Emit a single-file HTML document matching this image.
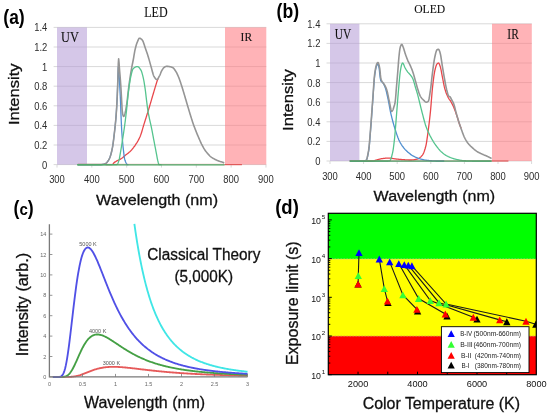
<!DOCTYPE html>
<html><head><meta charset="utf-8"><style>
html,body{margin:0;padding:0;background:#fff;}
svg{display:block;will-change:transform;}
text{font-family:"Liberation Sans",sans-serif;}
.serif{font-family:"Liberation Serif",serif;stroke:#111;stroke-width:0.1px;}
</style></head><body>
<svg width="550" height="414" viewBox="0 0 550 414">
<rect width="550" height="414" fill="#fff"/>
<!-- ===== Panel a ===== -->
<g stroke="#d9d9d9" stroke-width="1">
<line x1="57" x2="57" y1="164.6" y2="167.6"/>
<line x1="91.83" x2="91.83" y1="164.6" y2="167.6"/>
<line x1="126.66" x2="126.66" y1="164.6" y2="167.6"/>
<line x1="161.49" x2="161.49" y1="164.6" y2="167.6"/>
<line x1="196.32" x2="196.32" y1="164.6" y2="167.6"/>
<line x1="231.15" x2="231.15" y1="164.6" y2="167.6"/>
<line x1="265.98" x2="265.98" y1="164.6" y2="167.6"/>
<line x1="53.6" x2="266.3" y1="164.6" y2="164.6"/>
<line x1="53.6" x2="266.3" y1="145" y2="145"/>
<line x1="53.6" x2="266.3" y1="125.4" y2="125.4"/>
<line x1="53.6" x2="266.3" y1="105.8" y2="105.8"/>
<line x1="53.6" x2="266.3" y1="86.2" y2="86.2"/>
<line x1="53.6" x2="266.3" y1="66.6" y2="66.6"/>
<line x1="53.6" x2="266.3" y1="47" y2="47"/>
<line x1="53.6" x2="266.3" y1="27.4" y2="27.4"/>
</g>
<rect x="57" y="27.4" width="30" height="137.2" fill="rgb(179,154,213)" fill-opacity="0.553"/>
<rect x="225" y="27.4" width="41.3" height="137.2" fill="rgb(255,118,125)" fill-opacity="0.553"/>
<g fill="none" stroke-width="1.3" stroke-linejoin="round">
<path d="M105.76,164.6 L106.11,164.6 L106.46,164.6 L106.81,164.6 L107.16,164.6 L107.5,164.6 L107.85,164.6 L108.2,164.6 L108.55,164.6 L108.9,164.6 L109.25,164.6 L109.59,164.6 L109.94,164.6 L110.29,164.6 L110.64,164.6 L110.99,164.6 L111.33,164.6 L111.68,164.6 L112.03,164.6 L112.38,164.49 L112.73,164.21 L113.08,163.82 L113.42,163.39 L113.77,162.97 L114.12,162.64 L114.47,162.38 L114.82,162.14 L115.17,161.91 L115.51,161.69 L115.86,161.48 L116.21,161.27 L116.56,161.07 L116.91,160.88 L117.26,160.69 L117.6,160.52 L117.95,160.35 L118.3,160.18 L118.65,160.01 L119,159.85 L119.35,159.68 L119.69,159.5 L120.04,159.32 L120.39,159.13 L120.74,158.93 L121.09,158.72 L121.44,158.49 L121.78,158.25 L122.13,157.99 L122.48,157.73 L122.83,157.45 L123.18,157.16 L123.53,156.87 L123.87,156.58 L124.22,156.28 L124.57,155.98 L124.92,155.68 L125.27,155.38 L125.62,155.09 L125.96,154.8 L126.31,154.52 L126.66,154.24 L127.01,153.97 L127.36,153.71 L127.7,153.44 L128.05,153.17 L128.4,152.89 L128.75,152.62 L129.1,152.33 L129.45,152.04 L129.79,151.73 L130.14,151.42 L130.49,151.09 L130.84,150.74 L131.19,150.38 L131.54,150 L131.88,149.61 L132.23,149.2 L132.58,148.79 L132.93,148.35 L133.28,147.91 L133.63,147.45 L133.97,146.98 L134.32,146.5 L134.67,146.01 L135.02,145.51 L135.37,145 L135.72,144.48 L136.06,143.95 L136.41,143.41 L136.76,142.86 L137.11,142.3 L137.46,141.71 L137.81,141.11 L138.15,140.49 L138.5,139.84 L138.85,139.17 L139.2,138.47 L139.55,137.74 L139.9,136.98 L140.24,136.18 L140.59,135.31 L140.94,134.35 L141.29,133.31 L141.64,132.21 L141.99,131.05 L142.33,129.86 L142.68,128.65 L143.03,127.44 L143.38,126.24 L143.73,125.06 L144.07,123.93 L144.42,122.83 L144.77,121.73 L145.12,120.63 L145.47,119.54 L145.82,118.45 L146.16,117.36 L146.51,116.27 L146.86,115.17 L147.21,114.07 L147.56,112.95 L147.91,111.83 L148.25,110.7 L148.6,109.56 L148.95,108.4 L149.3,107.23 L149.65,106.06 L150,104.88 L150.34,103.69 L150.69,102.5 L151.04,101.31 L151.39,100.12 L151.74,98.93 L152.09,97.74 L152.43,96.55 L152.78,95.37 L153.13,94.2 L153.48,93.01 L153.83,91.83 L154.18,90.64 L154.52,89.47 L154.87,88.32 L155.22,87.18 L155.57,86.04 L155.92,84.9 L156.27,83.75 L156.61,82.63 L156.96,81.56 L157.31,80.56 L157.66,79.63 L158.01,78.85" stroke="#e8474b"/>
<path d="M77.9,164.6 L78.07,164.6 L78.25,164.6 L78.42,164.6 L78.59,164.6 L78.77,164.6 L78.94,164.6 L79.12,164.6 L79.29,164.6 L79.47,164.6 L79.64,164.6 L79.81,164.6 L79.99,164.6 L80.16,164.6 L80.34,164.6 L80.51,164.6 L80.68,164.6 L80.86,164.6 L81.03,164.6 L81.21,164.6 L81.38,164.6 L81.56,164.6 L81.73,164.6 L81.9,164.6 L82.08,164.6 L82.25,164.6 L82.43,164.6 L82.6,164.6 L82.77,164.6 L82.95,164.6 L83.12,164.6 L83.3,164.6 L83.47,164.6 L83.64,164.6 L83.82,164.6 L83.99,164.6 L84.17,164.6 L84.34,164.6 L84.52,164.6 L84.69,164.6 L84.86,164.6 L85.04,164.6 L85.21,164.6 L85.39,164.6 L85.56,164.6 L85.73,164.6 L85.91,164.6 L86.08,164.6 L86.26,164.6 L86.43,164.6 L86.61,164.6 L86.78,164.6 L86.95,164.6 L87.13,164.6 L87.3,164.6 L87.48,164.6 L87.65,164.6 L87.82,164.6 L88,164.6 L88.17,164.6 L88.35,164.6 L88.52,164.6 L88.7,164.6 L88.87,164.6 L89.04,164.6 L89.22,164.6 L89.39,164.6 L89.57,164.6 L89.74,164.6 L89.91,164.6 L90.09,164.6 L90.26,164.6 L90.44,164.6 L90.61,164.6 L90.79,164.6 L90.96,164.6 L91.13,164.6 L91.31,164.6 L91.48,164.6 L91.66,164.6 L91.83,164.6 L92,164.6 L92.18,164.6 L92.35,164.6 L92.53,164.6 L92.7,164.6 L92.87,164.6 L93.05,164.6 L93.22,164.6 L93.4,164.6 L93.57,164.6 L93.75,164.6 L93.92,164.6 L94.09,164.6 L94.27,164.6 L94.44,164.6 L94.62,164.6 L94.79,164.6 L94.96,164.6 L95.14,164.6 L95.31,164.6 L95.49,164.6 L95.66,164.6 L95.84,164.6 L96.01,164.6 L96.18,164.6 L96.36,164.6 L96.53,164.6 L96.71,164.6 L96.88,164.6 L97.05,164.6 L97.23,164.6 L97.4,164.6 L97.58,164.6 L97.75,164.6 L97.93,164.6 L98.1,164.6 L98.27,164.6 L98.45,164.6 L98.62,164.6 L98.8,164.6 L98.97,164.6 L99.14,164.6 L99.32,164.6 L99.49,164.6 L99.67,164.6 L99.84,164.6 L100.02,164.6 L100.19,164.6 L100.36,164.6 L100.54,164.6 L100.71,164.6 L100.89,164.59 L101.06,164.59 L101.23,164.58 L101.41,164.56 L101.58,164.55 L101.76,164.53 L101.93,164.51 L102.1,164.49 L102.28,164.47 L102.45,164.44 L102.63,164.42 L102.8,164.39 L102.98,164.36 L103.15,164.33 L103.32,164.31 L103.5,164.27 L103.67,164.24 L103.85,164.2 L104.02,164.15 L104.19,164.1 L104.37,164.04 L104.54,163.98 L104.72,163.92 L104.89,163.85 L105.07,163.77 L105.24,163.69 L105.41,163.61 L105.59,163.52 L105.76,163.42 L105.94,163.32 L106.11,163.19 L106.28,163.04 L106.46,162.88 L106.63,162.7 L106.81,162.51 L106.98,162.31 L107.16,162.09 L107.33,161.87 L107.5,161.64 L107.68,161.41 L107.85,161.17 L108.03,160.93 L108.2,160.67 L108.37,160.4 L108.55,160.12 L108.72,159.82 L108.9,159.5 L109.07,159.17 L109.25,158.83 L109.42,158.46 L109.59,158.08 L109.77,157.67 L109.94,157.25 L110.12,156.8 L110.29,156.31 L110.46,155.8 L110.64,155.24 L110.81,154.66 L110.99,154.04 L111.16,153.39 L111.33,152.71 L111.51,151.99 L111.68,151.25 L111.86,150.47 L112.03,149.66 L112.21,148.81 L112.38,147.94 L112.55,147 L112.73,145.96 L112.9,144.84 L113.08,143.64 L113.25,142.37 L113.42,141.04 L113.6,139.65 L113.77,138.23 L113.95,136.76 L114.12,135.28 L114.3,133.77 L114.47,132.26 L114.64,130.74 L114.82,129.2 L114.99,127.62 L115.17,125.98 L115.34,124.28 L115.51,122.49 L115.69,120.61 L115.86,118.61 L116.04,116.49 L116.21,114.21 L116.39,111.74 L116.56,109.05 L116.73,106.14 L116.91,103 L117.08,99.63 L117.26,96 L117.43,91.69 L117.6,86.59 L117.78,81.25 L117.95,76.17 L118.13,71.58 L118.3,67.17 L118.47,66.92 L118.65,68.55 L118.82,70.96 L119,73.46 L119.17,76 L119.35,78.9 L119.52,82.03 L119.69,85.22 L119.87,88.4 L120.04,91.64 L120.22,95.05 L120.39,98.71 L120.56,102.74 L120.74,107.65 L120.91,112.83 L121.09,117.28 L121.26,121.34 L121.44,125.11 L121.61,128.5 L121.78,131.42 L121.96,134.04 L122.13,136.43 L122.31,138.64 L122.48,140.71 L122.65,142.66 L122.83,144.51 L123,146.24 L123.18,147.86 L123.35,149.4 L123.53,150.88 L123.7,152.37 L123.87,153.88 L124.05,155.35 L124.22,156.69 L124.4,157.84 L124.57,158.72 L124.74,159.41 L124.92,160.03 L125.09,160.58 L125.27,161.08 L125.44,161.53 L125.62,161.93 L125.79,162.3 L125.96,162.64 L126.14,162.97 L126.31,163.31 L126.49,163.64 L126.66,163.95 L126.83,164.21 L127.01,164.42 L127.18,164.55 L127.36,164.6 L127.53,164.6 L127.7,164.6 L127.88,164.6 L128.05,164.6 L128.23,164.6 L128.4,164.6" stroke="#4f8fd0"/>
<path d="M77.9,164.6 L78.25,164.6 L78.59,164.6 L78.94,164.6 L79.29,164.6 L79.64,164.6 L79.99,164.6 L80.34,164.6 L80.68,164.6 L81.03,164.6 L81.38,164.6 L81.73,164.6 L82.08,164.6 L82.43,164.6 L82.77,164.6 L83.12,164.6 L83.47,164.6 L83.82,164.6 L84.17,164.6 L84.52,164.6 L84.86,164.6 L85.21,164.6 L85.56,164.6 L85.91,164.6 L86.26,164.6 L86.61,164.6 L86.95,164.6 L87.3,164.6 L87.65,164.6 L88,164.6 L88.35,164.6 L88.7,164.6 L89.04,164.6 L89.39,164.6 L89.74,164.6 L90.09,164.6 L90.44,164.6 L90.79,164.6 L91.13,164.6 L91.48,164.6 L91.83,164.6 L92.18,164.6 L92.53,164.6 L92.87,164.6 L93.22,164.6 L93.57,164.6 L93.92,164.6 L94.27,164.6 L94.62,164.6 L94.96,164.6 L95.31,164.6 L95.66,164.6 L96.01,164.6 L96.36,164.6 L96.71,164.6 L97.05,164.6 L97.4,164.6 L97.75,164.6 L98.1,164.6 L98.45,164.6 L98.8,164.6 L99.14,164.6 L99.49,164.6 L99.84,164.6 L100.19,164.6 L100.54,164.6 L100.89,164.59 L101.23,164.58 L101.58,164.55 L101.93,164.51 L102.28,164.47 L102.63,164.42 L102.98,164.36 L103.32,164.31 L103.67,164.24 L104.02,164.15 L104.37,164.04 L104.72,163.92 L105.07,163.77 L105.41,163.61 L105.76,163.42 L106.11,163.19 L106.46,162.88 L106.81,162.51 L107.16,162.09 L107.5,161.64 L107.85,161.17 L108.2,160.67 L108.55,160.12 L108.9,159.5 L109.25,158.83 L109.59,158.08 L109.94,157.25 L110.29,156.31 L110.64,155.24 L110.99,154.04 L111.33,152.71 L111.68,151.25 L112.03,149.66 L112.38,147.94 L112.73,145.96 L113.08,143.64 L113.42,141.04 L113.77,138.23 L114.12,135.28 L114.47,132.26 L114.82,129.2 L115.17,125.98 L115.51,122.49 L115.86,118.61 L116.21,114.21 L116.56,109.05 L116.91,103 L117.26,96 L117.6,87.15 L117.95,76.68 L118.3,63.51 L118.65,58.85 L119,62.3 L119.35,67.28 L119.69,71.55 L120.04,75.62 L120.39,79.94 L120.74,84.76 L121.09,90.59 L121.44,96.92 L121.78,103.07 L122.13,109.52 L122.48,113.03 L122.83,114.66 L123.18,115.85 L123.53,116.49 L123.87,116.49 L124.22,115.83 L124.57,114.79 L124.92,113.64 L125.27,112.34 L125.62,110.73 L125.96,108.88 L126.31,106.85 L126.66,104.68 L127.01,102.12 L127.36,99.25 L127.7,96.19 L128.05,93.06 L128.4,89.99 L128.75,87.08 L129.1,84.46 L129.45,81.97 L129.79,79.54 L130.14,77.18 L130.49,74.9 L130.84,72.7 L131.19,70.58 L131.54,68.56 L131.88,66.68 L132.23,64.93 L132.58,63.23 L132.93,61.53 L133.28,59.74 L133.63,57.78 L133.97,55.68 L134.32,53.59 L134.67,51.63 L135.02,49.94 L135.37,48.46 L135.72,47.06 L136.06,45.76 L136.41,44.57 L136.76,43.51 L137.11,42.59 L137.46,41.73 L137.81,40.86 L138.15,40.03 L138.5,39.3 L138.85,38.71 L139.2,38.32 L139.55,38.18 L139.9,38.22 L140.24,38.34 L140.59,38.53 L140.94,38.78 L141.29,39.07 L141.64,39.4 L141.99,39.76 L142.33,40.14 L142.68,40.64 L143.03,41.34 L143.38,42.19 L143.73,43.17 L144.07,44.23 L144.42,45.33 L144.77,46.42 L145.12,47.48 L145.47,48.47 L145.82,49.46 L146.16,50.45 L146.51,51.46 L146.86,52.49 L147.21,53.54 L147.56,54.6 L147.91,55.69 L148.25,56.8 L148.6,57.95 L148.95,59.15 L149.3,60.38 L149.65,61.64 L150,62.9 L150.34,64.15 L150.69,65.39 L151.04,66.6 L151.39,67.84 L151.74,69.15 L152.09,70.49 L152.43,71.82 L152.78,73.09 L153.13,74.25 L153.48,75.26 L153.83,76.08 L154.18,76.69 L154.52,77.27 L154.87,77.82 L155.22,78.32 L155.57,78.76 L155.92,79.12 L156.27,79.38 L156.61,79.52 L156.96,79.51 L157.31,79.33 L157.66,78.99 L158.01,78.52 L158.36,77.96 L158.7,77.33 L159.05,76.67 L159.4,76 L159.75,75.36 L160.1,74.62 L160.45,73.75 L160.79,72.83 L161.14,71.94 L161.49,71.17 L161.84,70.55 L162.19,69.96 L162.53,69.39 L162.88,68.85 L163.23,68.36 L163.58,67.92 L163.93,67.54 L164.28,67.25 L164.62,67.03 L164.97,66.85 L165.32,66.68 L165.67,66.53 L166.02,66.41 L166.37,66.33 L166.71,66.31 L167.06,66.31 L167.41,66.34 L167.76,66.37 L168.11,66.41 L168.46,66.46 L168.8,66.52 L169.15,66.57 L169.5,66.63 L169.85,66.69 L170.2,66.76 L170.55,66.84 L170.89,66.93 L171.24,67.02 L171.59,67.13 L171.94,67.26 L172.29,67.39 L172.64,67.55 L172.98,67.74 L173.33,68.01 L173.68,68.35 L174.03,68.75 L174.38,69.2 L174.73,69.7 L175.07,70.22 L175.42,70.77 L175.77,71.33 L176.12,71.89 L176.47,72.48 L176.82,73.14 L177.16,73.84 L177.51,74.59 L177.86,75.38 L178.21,76.2 L178.56,77.04 L178.91,77.9 L179.25,78.79 L179.6,79.73 L179.95,80.71 L180.3,81.74 L180.65,82.79 L180.99,83.87 L181.34,84.95 L181.69,86.04 L182.04,87.12 L182.39,88.23 L182.74,89.35 L183.08,90.48 L183.43,91.63 L183.78,92.79 L184.13,93.95 L184.48,95.11 L184.83,96.28 L185.17,97.47 L185.52,98.66 L185.87,99.85 L186.22,101.05 L186.57,102.25 L186.92,103.44 L187.26,104.62 L187.61,105.8 L187.96,106.97 L188.31,108.14 L188.66,109.31 L189.01,110.47 L189.35,111.63 L189.7,112.78 L190.05,113.92 L190.4,115.04 L190.75,116.16 L191.1,117.26 L191.44,118.37 L191.79,119.47 L192.14,120.55 L192.49,121.63 L192.84,122.68 L193.19,123.71 L193.53,124.71 L193.88,125.69 L194.23,126.64 L194.58,127.58 L194.93,128.49 L195.28,129.39 L195.62,130.28 L195.97,131.16 L196.32,132.03 L196.67,132.89 L197.02,133.75 L197.36,134.59 L197.71,135.42 L198.06,136.24 L198.41,137.06 L198.76,137.86 L199.11,138.67 L199.45,139.47 L199.8,140.26 L200.15,141.05 L200.5,141.82 L200.85,142.57 L201.2,143.3 L201.54,144.01 L201.89,144.7 L202.24,145.39 L202.59,146.06 L202.94,146.72 L203.29,147.36 L203.63,147.98 L203.98,148.57 L204.33,149.14 L204.68,149.67 L205.03,150.19 L205.38,150.69 L205.72,151.16 L206.07,151.63 L206.42,152.08 L206.77,152.51 L207.12,152.93 L207.47,153.34 L207.81,153.74 L208.16,154.14 L208.51,154.53 L208.86,154.91 L209.21,155.28 L209.56,155.64 L209.9,155.97 L210.25,156.29 L210.6,156.59 L210.95,156.87 L211.3,157.13 L211.65,157.38 L211.99,157.61 L212.34,157.84 L212.69,158.06 L213.04,158.27 L213.39,158.48 L213.73,158.67 L214.08,158.86 L214.43,159.05 L214.78,159.24 L215.13,159.42 L215.48,159.59 L215.82,159.76 L216.17,159.93 L216.52,160.1 L216.87,160.26 L217.22,160.41 L217.57,160.56 L217.91,160.71 L218.26,160.85 L218.61,160.99 L218.96,161.12 L219.31,161.24 L219.66,161.36 L220,161.47 L220.35,161.57 L220.7,161.66 L221.05,161.76 L221.4,161.85 L221.75,161.95 L222.09,162.06 L222.44,162.17 L222.79,162.29 L223.14,162.42 L223.49,162.57 L223.84,162.75 L224.18,162.93" stroke="#959595" stroke-width="1.6"/>
<path d="M77.2,164.6 L77.55,164.6 L77.9,164.6 L78.25,164.6 L78.59,164.6 L78.94,164.6 L79.29,164.6 L79.64,164.6 L79.99,164.6 L80.34,164.6 L80.68,164.6 L81.03,164.6 L81.38,164.6 L81.73,164.6 L82.08,164.6 L82.43,164.6 L82.77,164.6 L83.12,164.6 L83.47,164.6 L83.82,164.6 L84.17,164.6 L84.52,164.6 L84.86,164.6 L85.21,164.6 L85.56,164.6 L85.91,164.6 L86.26,164.6 L86.61,164.6 L86.95,164.6 L87.3,164.6 L87.65,164.6 L88,164.6 L88.35,164.6 L88.7,164.6 L89.04,164.6 L89.39,164.6 L89.74,164.6 L90.09,164.6 L90.44,164.6 L90.79,164.6 L91.13,164.6 L91.48,164.6 L91.83,164.6 L92.18,164.6 L92.53,164.6 L92.87,164.6 L93.22,164.6 L93.57,164.6 L93.92,164.6 L94.27,164.6 L94.62,164.6 L94.96,164.6 L95.31,164.6 L95.66,164.6 L96.01,164.6 L96.36,164.6 L96.71,164.6 L97.05,164.6 L97.4,164.6 L97.75,164.6 L98.1,164.6 L98.45,164.6 L98.8,164.6 L99.14,164.6 L99.49,164.6 L99.84,164.6 L100.19,164.6 L100.54,164.6 L100.89,164.6 L101.23,164.6 L101.58,164.6 L101.93,164.6 L102.28,164.6 L102.63,164.6 L102.98,164.6 L103.32,164.6 L103.67,164.6 L104.02,164.6 L104.37,164.6 L104.72,164.6 L105.07,164.6 L105.41,164.6 L105.76,164.6 L106.11,164.6 L106.46,164.6 L106.81,164.6 L107.16,164.6 L107.5,164.6 L107.85,164.6 L108.2,164.6 L108.55,164.6 L108.9,164.6 L109.25,164.6 L109.59,164.6 L109.94,164.6 L110.29,164.6 L110.64,164.6 L110.99,164.6 L111.33,164.6 L111.68,164.6 L112.03,164.6 L112.38,164.6 L112.73,164.6 L113.08,164.6 L113.42,164.6 L113.77,164.6 L114.12,164.6 L114.47,164.6 L114.82,164.6 L115.17,164.6 L115.51,164.6 L115.86,164.6 L116.21,164.6 L116.56,164.6 L116.91,164.48 L117.26,164.19 L117.6,163.82 L117.95,163.25 L118.3,162.41 L118.65,161.37 L119,160.19 L119.35,158.73 L119.69,156.89 L120.04,154.86 L120.39,152.84 L120.74,150.84 L121.09,148.78 L121.44,146.66 L121.78,144.5 L122.13,142.31 L122.48,140.1 L122.83,137.88 L123.18,135.64 L123.53,133.37 L123.87,131.03 L124.22,128.61 L124.57,126.09 L124.92,123.49 L125.27,120.81 L125.62,118.04 L125.96,115.18 L126.31,112.22 L126.66,109.11 L127.01,105.65 L127.36,102.03 L127.7,98.48 L128.05,95.21 L128.4,92.36 L128.75,89.61 L129.1,86.95 L129.45,84.42 L129.79,82.07 L130.14,79.93 L130.49,78.04 L130.84,76.43 L131.19,74.9 L131.54,73.42 L131.88,72.05 L132.23,70.83 L132.58,69.8 L132.93,69.03 L133.28,68.56 L133.63,68.27 L133.97,67.99 L134.32,67.74 L134.67,67.51 L135.02,67.31 L135.37,67.12 L135.72,66.97 L136.06,66.84 L136.41,66.74 L136.76,66.66 L137.11,66.62 L137.46,66.6 L137.81,66.65 L138.15,66.79 L138.5,67.02 L138.85,67.31 L139.2,67.68 L139.55,68.1 L139.9,68.56 L140.24,69.06 L140.59,69.59 L140.94,70.15 L141.29,70.86 L141.64,71.77 L141.99,72.86 L142.33,74.09 L142.68,75.44 L143.03,76.87 L143.38,78.36 L143.73,80.01 L144.07,81.92 L144.42,84.03 L144.77,86.29 L145.12,88.65 L145.47,91.24 L145.82,94.12 L146.16,97.13 L146.51,100.11 L146.86,102.92 L147.21,105.68 L147.56,108.34 L147.91,110.7 L148.25,112.72 L148.6,114.54 L148.95,116.24 L149.3,117.88 L149.65,119.52 L150,121.13 L150.34,122.67 L150.69,124.19 L151.04,125.74 L151.39,127.36 L151.74,129.08 L152.09,130.85 L152.43,132.68 L152.78,134.54 L153.13,136.4 L153.48,138.26 L153.83,140.1 L154.18,141.92 L154.52,143.75 L154.87,145.58 L155.22,147.41 L155.57,149.23 L155.92,151.04 L156.27,152.84 L156.61,154.71 L156.96,156.64 L157.31,158.53 L157.66,160.24 L158.01,161.66 L158.36,162.97 L158.7,164.11 L159.05,164.6 L159.4,164.6 L159.75,164.6 L160.1,164.6 L160.45,164.6 L160.79,164.6 L161.14,164.6 L161.49,164.6" stroke="#55c48e"/>
<path d="M77.2,164.1 H224.53" stroke="#e06a5a" stroke-width="0.8" stroke-opacity="0.35"/>
<path d="M224.53,164.6 H241.95" stroke="#e05a5a" stroke-width="1.2"/>
<path d="M77.2,164.8 H224.53" stroke="#4fa565" stroke-width="1.3"/>
</g>
<text x="3.3" y="24.3" font-size="20" font-weight="bold" fill="#000" textLength="21.5" lengthAdjust="spacingAndGlyphs">(<tspan font-size="19.5">a</tspan>)</text>
<text class="serif" x="144.2" y="16.9" font-size="14.5" fill="#111" textLength="23.4" lengthAdjust="spacingAndGlyphs">LED</text>
<text class="serif" x="61" y="41.8" font-size="14.5" fill="#111" textLength="17.8" lengthAdjust="spacingAndGlyphs">UV</text>
<text class="serif" x="240.6" y="41.2" font-size="13.5" fill="#111" textLength="11.5" lengthAdjust="spacingAndGlyphs">IR</text>
<g font-size="10.6" fill="#2e2e2e" text-anchor="end">
<text x="47.3" y="168.5" textLength="5.25" lengthAdjust="spacingAndGlyphs">0</text>
<text x="47.3" y="148.9" textLength="13.11" lengthAdjust="spacingAndGlyphs">0.2</text>
<text x="47.3" y="129.3" textLength="13.11" lengthAdjust="spacingAndGlyphs">0.4</text>
<text x="47.3" y="109.7" textLength="13.11" lengthAdjust="spacingAndGlyphs">0.6</text>
<text x="47.3" y="90.1" textLength="13.11" lengthAdjust="spacingAndGlyphs">0.8</text>
<text x="47.3" y="70.5" textLength="5.25" lengthAdjust="spacingAndGlyphs">1</text>
<text x="47.3" y="50.9" textLength="13.11" lengthAdjust="spacingAndGlyphs">1.2</text>
<text x="47.3" y="31.3" textLength="13.11" lengthAdjust="spacingAndGlyphs">1.4</text>
</g>
<g font-size="10.6" fill="#2e2e2e" text-anchor="middle">
<text x="57" y="183.2" textLength="15.74" lengthAdjust="spacingAndGlyphs">300</text>
<text x="91.83" y="183.2" textLength="15.74" lengthAdjust="spacingAndGlyphs">400</text>
<text x="126.66" y="183.2" textLength="15.74" lengthAdjust="spacingAndGlyphs">500</text>
<text x="161.49" y="183.2" textLength="15.74" lengthAdjust="spacingAndGlyphs">600</text>
<text x="196.32" y="183.2" textLength="15.74" lengthAdjust="spacingAndGlyphs">700</text>
<text x="231.15" y="183.2" textLength="15.74" lengthAdjust="spacingAndGlyphs">800</text>
<text x="265.98" y="183.2" textLength="15.74" lengthAdjust="spacingAndGlyphs">900</text>
</g>
<text x="96.1" y="204.6" font-size="15.5" fill="#111" stroke="#111" stroke-width="0.3" textLength="122" lengthAdjust="spacingAndGlyphs">Wavelength (nm)</text>
<text transform="translate(18.5,125) rotate(-90)" x="0" y="0" font-size="15.5" fill="#111" stroke="#111" stroke-width="0.3" textLength="61.5" lengthAdjust="spacingAndGlyphs">Intensity</text>
<g stroke="#d9d9d9" stroke-width="1">
<line x1="330" x2="330" y1="161" y2="164"/>
<line x1="363.6" x2="363.6" y1="161" y2="164"/>
<line x1="397.2" x2="397.2" y1="161" y2="164"/>
<line x1="430.8" x2="430.8" y1="161" y2="164"/>
<line x1="464.4" x2="464.4" y1="161" y2="164"/>
<line x1="498" x2="498" y1="161" y2="164"/>
<line x1="531.6" x2="531.6" y1="161" y2="164"/>
<line x1="326.5" x2="531.8" y1="161" y2="161"/>
<line x1="326.5" x2="531.8" y1="141.4" y2="141.4"/>
<line x1="326.5" x2="531.8" y1="121.8" y2="121.8"/>
<line x1="326.5" x2="531.8" y1="102.2" y2="102.2"/>
<line x1="326.5" x2="531.8" y1="82.6" y2="82.6"/>
<line x1="326.5" x2="531.8" y1="63" y2="63"/>
<line x1="326.5" x2="531.8" y1="43.4" y2="43.4"/>
<line x1="326.5" x2="531.8" y1="23.8" y2="23.8"/>
</g>
<rect x="330" y="23.8" width="29.4" height="137.2" fill="rgb(179,154,213)" fill-opacity="0.553"/>
<rect x="492" y="23.8" width="39.8" height="137.2" fill="rgb(255,118,125)" fill-opacity="0.553"/>
<g fill="none" stroke-width="1.3" stroke-linejoin="round">
<path d="M349.82,161 L350.16,161 L350.5,161 L350.83,161 L351.17,161 L351.5,161 L351.84,161 L352.18,161 L352.51,161 L352.85,161 L353.18,161 L353.52,161 L353.86,161 L354.19,161 L354.53,161 L354.86,161 L355.2,161 L355.54,161 L355.87,161 L356.21,161 L356.54,161 L356.88,161 L357.22,161 L357.55,161 L357.89,161 L358.22,161 L358.56,161 L358.9,161 L359.23,161 L359.57,161 L359.9,161 L360.24,161 L360.58,161 L360.91,161 L361.25,161 L361.58,161 L361.92,161 L362.26,161 L362.59,161 L362.93,161 L363.26,161 L363.6,161 L363.94,161 L364.27,161 L364.61,161 L364.94,161 L365.28,161 L365.62,161 L365.95,161 L366.29,161 L366.62,161 L366.96,161 L367.3,161 L367.63,161 L367.97,161 L368.3,161 L368.64,161 L368.98,161 L369.31,161 L369.65,161 L369.98,161 L370.32,161 L370.66,161 L370.99,161 L371.33,161 L371.66,161 L372,161 L372.34,160.99 L372.67,160.96 L373.01,160.92 L373.34,160.86 L373.68,160.78 L374.02,160.7 L374.35,160.61 L374.69,160.51 L375.02,160.41 L375.36,160.31 L375.7,160.2 L376.03,160.1 L376.37,160 L376.7,159.91 L377.04,159.82 L377.38,159.74 L377.71,159.66 L378.05,159.57 L378.38,159.47 L378.72,159.38 L379.06,159.29 L379.39,159.2 L379.73,159.11 L380.06,159.02 L380.4,158.94 L380.74,158.86 L381.07,158.79 L381.41,158.73 L381.74,158.67 L382.08,158.63 L382.42,158.58 L382.75,158.54 L383.09,158.49 L383.42,158.45 L383.76,158.41 L384.1,158.37 L384.43,158.33 L384.77,158.29 L385.1,158.25 L385.44,158.22 L385.78,158.19 L386.11,158.16 L386.45,158.14 L386.78,158.11 L387.12,158.09 L387.46,158.08 L387.79,158.07 L388.13,158.06 L388.46,158.06 L388.8,158.06 L389.14,158.07 L389.47,158.09 L389.81,158.11 L390.14,158.14 L390.48,158.18 L390.82,158.22 L391.15,158.26 L391.49,158.3 L391.82,158.35 L392.16,158.4 L392.5,158.46 L392.83,158.51 L393.17,158.57 L393.5,158.62 L393.84,158.68 L394.18,158.73 L394.51,158.78 L394.85,158.84 L395.18,158.88 L395.52,158.93 L395.86,158.98 L396.19,159.01 L396.53,159.05 L396.86,159.08 L397.2,159.12 L397.54,159.15 L397.87,159.18 L398.21,159.22 L398.54,159.25 L398.88,159.28 L399.22,159.31 L399.55,159.34 L399.89,159.37 L400.22,159.4 L400.56,159.43 L400.9,159.45 L401.23,159.48 L401.57,159.51 L401.9,159.53 L402.24,159.55 L402.58,159.58 L402.91,159.6 L403.25,159.63 L403.58,159.65 L403.92,159.68 L404.26,159.71 L404.59,159.73 L404.93,159.76 L405.26,159.78 L405.6,159.81 L405.94,159.83 L406.27,159.85 L406.61,159.87 L406.94,159.89 L407.28,159.91 L407.62,159.93 L407.95,159.95 L408.29,159.97 L408.62,159.98 L408.96,159.99 L409.3,160 L409.63,160.01 L409.97,160.02 L410.3,160.02 L410.64,160.02 L410.98,160.02 L411.31,160.01 L411.65,159.99 L411.98,159.97 L412.32,159.95 L412.66,159.92 L412.99,159.88 L413.33,159.84 L413.66,159.79 L414,159.74 L414.34,159.69 L414.67,159.63 L415.01,159.57 L415.34,159.5 L415.68,159.43 L416.02,159.36 L416.35,159.28 L416.69,159.21 L417.02,159.12 L417.36,159.04 L417.7,158.94 L418.03,158.82 L418.37,158.67 L418.7,158.5 L419.04,158.3 L419.38,158.08 L419.71,157.83 L420.05,157.57 L420.38,157.28 L420.72,156.97 L421.06,156.64 L421.39,156.29 L421.73,155.92 L422.06,155.53 L422.4,155.12 L422.74,154.65 L423.07,154.08 L423.41,153.41 L423.74,152.64 L424.08,151.79 L424.42,150.85 L424.75,149.82 L425.09,148.72 L425.42,147.55 L425.76,146.3 L426.1,144.83 L426.43,143.04 L426.77,140.98 L427.1,138.71 L427.44,136.29 L427.78,133.8 L428.11,131.28 L428.45,128.78 L428.78,126.19 L429.12,123.48 L429.46,120.65 L429.79,117.69 L430.13,114.59 L430.46,111.33 L430.8,107.65 L431.14,103.59 L431.47,99.38 L431.81,95.22 L432.14,91.36 L432.48,87.99 L432.82,84.97 L433.15,82.04 L433.49,79.25 L433.82,76.66 L434.16,74.33 L434.5,72.32 L434.83,70.69 L435.17,69.27 L435.5,67.93 L435.84,66.71 L436.18,65.66 L436.51,64.81 L436.85,64.19 L437.18,63.81 L437.52,63.5 L437.86,63.24 L438.19,63.06 L438.53,63 L438.86,63.2 L439.2,63.75 L439.54,64.54 L439.87,65.47 L440.21,66.43 L440.54,67.57 L440.88,69.03 L441.22,70.71 L441.55,72.53 L441.89,74.38 L442.22,76.17 L442.56,77.85 L442.9,79.59 L443.23,81.38 L443.57,83.15 L443.9,84.85 L444.24,86.41 L444.58,87.79 L444.91,89.02 L445.25,90.17 L445.58,91.24 L445.92,92.24 L446.26,93.17 L446.59,94.03 L446.93,94.84 L447.26,95.59 L447.6,96.3 L447.94,96.97 L448.27,97.6 L448.61,98.2 L448.94,98.77 L449.28,99.3 L449.62,99.77 L449.95,100.23 L450.29,100.7 L450.62,101.22 L450.96,101.78 L451.3,102.37 L451.63,102.98 L451.97,103.6 L452.3,104.26 L452.64,104.93 L452.98,105.63 L453.31,106.35 L453.65,107.1 L453.98,107.88 L454.32,108.7 L454.66,109.55 L454.99,110.44 L455.33,111.35 L455.66,112.29 L456,113.25 L456.34,114.22 L456.67,115.2 L457.01,116.2 L457.34,117.19 L457.68,118.23 L458.02,119.32 L458.35,120.45 L458.69,121.58 L459.02,122.69 L459.36,123.75 L459.7,124.74 L460.03,125.66 L460.37,126.54 L460.7,127.37 L461.04,128.17" stroke="#e8474b"/>
<path d="M349.82,161 L350.16,161 L350.5,161 L350.83,161 L351.17,161 L351.5,161 L351.84,161 L352.18,161 L352.51,161 L352.85,161 L353.18,161 L353.52,161 L353.86,161 L354.19,161 L354.53,161 L354.86,161 L355.2,161 L355.54,161 L355.87,161 L356.21,161 L356.54,161 L356.88,161 L357.22,161 L357.55,161 L357.89,161 L358.22,161 L358.56,161 L358.9,161 L359.23,161 L359.57,161 L359.9,161 L360.24,161 L360.58,161 L360.91,161 L361.25,161 L361.58,161 L361.92,161 L362.26,161 L362.59,161 L362.93,161 L363.26,161 L363.6,161 L363.94,160.99 L364.27,160.97 L364.61,160.92 L364.94,160.86 L365.28,160.79 L365.62,160.71 L365.95,160.61 L366.29,160.32 L366.62,159.7 L366.96,158.79 L367.3,157.62 L367.63,156.24 L367.97,154.68 L368.3,152.99 L368.64,151.2 L368.98,148.86 L369.31,145.67 L369.65,141.89 L369.98,137.79 L370.32,133.62 L370.66,129.57 L370.99,125.29 L371.33,120.78 L371.66,116.13 L372,111.42 L372.34,106.75 L372.67,102.2 L373.01,97.49 L373.34,92.48 L373.68,87.49 L374.02,82.83 L374.35,78.81 L374.69,75.74 L375.02,73.34 L375.36,71.16 L375.7,69.26 L376.03,67.67 L376.37,66.47 L376.7,65.64 L377.04,64.95 L377.38,64.38 L377.71,64.04 L378.05,64.06 L378.38,64.86 L378.72,66.25 L379.06,67.9 L379.39,70.44 L379.73,73.83 L380.06,76.72 L380.4,78.9 L380.74,80.48 L381.07,81.09 L381.41,81.48 L381.74,81.76 L382.08,82 L382.42,82.29 L382.75,82.69 L383.09,83.18 L383.42,83.71 L383.76,84.3 L384.1,84.95 L384.43,85.65 L384.77,86.41 L385.1,87.24 L385.44,88.16 L385.78,89.24 L386.11,90.46 L386.45,91.8 L386.78,93.23 L387.12,94.74 L387.46,96.28 L387.79,97.85 L388.13,99.42 L388.46,101.08 L388.8,102.87 L389.14,104.74 L389.47,106.63 L389.81,108.47 L390.14,110.21 L390.48,111.8 L390.82,113.32 L391.15,114.79 L391.49,116.21 L391.82,117.59 L392.16,118.93 L392.5,120.23 L392.83,121.5 L393.17,122.74 L393.5,123.95 L393.84,125.12 L394.18,126.26 L394.51,127.36 L394.85,128.43 L395.18,129.49 L395.52,130.55 L395.86,131.6 L396.19,132.64 L396.53,133.65 L396.86,134.64 L397.2,135.61 L397.54,136.55 L397.87,137.45 L398.21,138.31 L398.54,139.13 L398.88,139.91 L399.22,140.63 L399.55,141.32 L399.89,141.97 L400.22,142.59 L400.56,143.18 L400.9,143.74 L401.23,144.29 L401.57,144.81 L401.9,145.32 L402.24,145.81 L402.58,146.29 L402.91,146.76 L403.25,147.21 L403.58,147.64 L403.92,148.06 L404.26,148.47 L404.59,148.86 L404.93,149.24 L405.26,149.61 L405.6,149.96 L405.94,150.31 L406.27,150.64 L406.61,150.97 L406.94,151.28 L407.28,151.59 L407.62,151.89 L407.95,152.18 L408.29,152.47 L408.62,152.75 L408.96,153.04 L409.3,153.32 L409.63,153.59 L409.97,153.86 L410.3,154.12 L410.64,154.38 L410.98,154.62 L411.31,154.86 L411.65,155.09 L411.98,155.31 L412.32,155.51 L412.66,155.71 L412.99,155.89 L413.33,156.08 L413.66,156.26 L414,156.43 L414.34,156.6 L414.67,156.77 L415.01,156.93 L415.34,157.09 L415.68,157.24 L416.02,157.39 L416.35,157.53 L416.69,157.67 L417.02,157.8 L417.36,157.93 L417.7,158.06 L418.03,158.17 L418.37,158.29 L418.7,158.4 L419.04,158.51 L419.38,158.61 L419.71,158.72 L420.05,158.82 L420.38,158.93 L420.72,159.03 L421.06,159.13 L421.39,159.23 L421.73,159.32 L422.06,159.41 L422.4,159.5 L422.74,159.59 L423.07,159.67 L423.41,159.75 L423.74,159.82 L424.08,159.89 L424.42,159.96 L424.75,160.02 L425.09,160.08 L425.42,160.13 L425.76,160.18 L426.1,160.22 L426.43,160.25 L426.77,160.29 L427.1,160.33 L427.44,160.36 L427.78,160.4 L428.11,160.43 L428.45,160.47 L428.78,160.5 L429.12,160.53 L429.46,160.57 L429.79,160.6 L430.13,160.63 L430.46,160.66 L430.8,160.69 L431.14,160.72 L431.47,160.74 L431.81,160.77 L432.14,160.79 L432.48,160.82 L432.82,160.84 L433.15,160.86 L433.49,160.88 L433.82,160.9 L434.16,160.91 L434.5,160.93 L434.83,160.94 L435.17,160.96 L435.5,160.97 L435.84,160.98 L436.18,160.99 L436.51,160.99 L436.85,161 L437.18,161 L437.52,161 L437.86,161 L438.19,161 L438.53,161 L438.86,161 L439.2,161 L439.54,161 L439.87,161 L440.21,161 L440.54,161 L440.88,161 L441.22,161 L441.55,161 L441.89,161 L442.22,161 L442.56,161 L442.9,161 L443.23,161 L443.57,161 L443.9,161 L444.24,161" stroke="#4f8fd0"/>
<path d="M349.82,161 L350.16,161 L350.5,161 L350.83,161 L351.17,161 L351.5,161 L351.84,161 L352.18,161 L352.51,161 L352.85,161 L353.18,161 L353.52,161 L353.86,161 L354.19,161 L354.53,161 L354.86,161 L355.2,161 L355.54,161 L355.87,161 L356.21,161 L356.54,161 L356.88,161 L357.22,161 L357.55,161 L357.89,161 L358.22,161 L358.56,161 L358.9,161 L359.23,161 L359.57,161 L359.9,161 L360.24,161 L360.58,161 L360.91,161 L361.25,161 L361.58,161 L361.92,161 L362.26,161 L362.59,161 L362.93,161 L363.26,161 L363.6,161 L363.94,160.99 L364.27,160.96 L364.61,160.9 L364.94,160.83 L365.28,160.74 L365.62,160.63 L365.95,160.51 L366.29,160.18 L366.62,159.5 L366.96,158.49 L367.3,157.21 L367.63,155.7 L367.97,154 L368.3,152.16 L368.64,150.22 L368.98,147.71 L369.31,144.33 L369.65,140.35 L369.98,136.05 L370.32,131.73 L370.66,127.56 L370.99,123.23 L371.33,118.71 L371.66,114.09 L372,109.42 L372.34,104.78 L372.67,100.24 L373.01,95.51 L373.34,90.48 L373.68,85.46 L374.02,80.79 L374.35,76.79 L374.69,73.78 L375.02,71.49 L375.36,69.43 L375.7,67.64 L376.03,66.15 L376.37,65 L376.7,64.17 L377.04,63.44 L377.38,62.84 L377.71,62.48 L378.05,62.46 L378.38,62.95 L378.72,63.9 L379.06,65.19 L379.39,66.73 L379.73,68.39 L380.06,71.16 L380.4,74.9 L380.74,77.85 L381.07,79.21 L381.41,80.22 L381.74,81 L382.08,81.62 L382.42,82.12 L382.75,82.5 L383.09,82.85 L383.42,83.22 L383.76,83.68 L384.1,84.2 L384.43,84.74 L384.77,85.32 L385.1,85.95 L385.44,86.62 L385.78,87.35 L386.11,88.14 L386.45,89 L386.78,89.96 L387.12,91.14 L387.46,92.53 L387.79,94.07 L388.13,95.7 L388.46,97.39 L388.8,99.06 L389.14,100.69 L389.47,102.2 L389.81,103.81 L390.14,105.63 L390.48,107.47 L390.82,109.15 L391.15,110.47 L391.49,111.27 L391.82,111.38 L392.16,111.1 L392.5,110.61 L392.83,110.04 L393.17,109.27 L393.5,108.23 L393.84,107.1 L394.18,106.03 L394.51,104.92 L394.85,103.57 L395.18,101.78 L395.52,98.76 L395.86,94.73 L396.19,90.37 L396.53,86.34 L396.86,82.46 L397.2,78.53 L397.54,74.55 L397.87,70.51 L398.21,66.12 L398.54,61.63 L398.88,57.53 L399.22,54.26 L399.55,51.36 L399.89,48.92 L400.22,47.32 L400.56,46.33 L400.9,45.47 L401.23,44.82 L401.57,44.45 L401.9,44.42 L402.24,44.84 L402.58,45.56 L402.91,46.45 L403.25,47.32 L403.58,48.23 L403.92,49.29 L404.26,50.43 L404.59,51.58 L404.93,52.69 L405.26,53.69 L405.6,54.67 L405.94,55.64 L406.27,56.58 L406.61,57.5 L406.94,58.39 L407.28,59.25 L407.62,60.06 L407.95,60.82 L408.29,61.54 L408.62,62.22 L408.96,62.89 L409.3,63.55 L409.63,64.23 L409.97,64.93 L410.3,65.68 L410.64,66.44 L410.98,67.21 L411.31,67.99 L411.65,68.8 L411.98,69.64 L412.32,70.52 L412.66,71.44 L412.99,72.42 L413.33,73.48 L413.66,74.61 L414,75.79 L414.34,77 L414.67,78.23 L415.01,79.45 L415.34,80.64 L415.68,81.84 L416.02,83.07 L416.35,84.32 L416.69,85.56 L417.02,86.77 L417.36,87.94 L417.7,89.04 L418.03,90.08 L418.37,91.12 L418.7,92.15 L419.04,93.14 L419.38,94.08 L419.71,94.94 L420.05,95.69 L420.38,96.32 L420.72,96.85 L421.06,97.34 L421.39,97.79 L421.73,98.21 L422.06,98.59 L422.4,98.95 L422.74,99.29 L423.07,99.62 L423.41,99.93 L423.74,100.24 L424.08,100.57 L424.42,100.91 L424.75,101.25 L425.09,101.57 L425.42,101.85 L425.76,102.06 L426.1,102.18 L426.43,102.19 L426.77,102.14 L427.1,102.02 L427.44,101.85 L427.78,101.63 L428.11,101.37 L428.45,100.98 L428.78,100 L429.12,98.48 L429.46,96.58 L429.79,94.43 L430.13,92.19 L430.46,90 L430.8,87.52 L431.14,84.67 L431.47,81.61 L431.81,78.51 L432.14,75.52 L432.48,72.8 L432.82,70.24 L433.15,67.67 L433.49,65.16 L433.82,62.77 L434.16,60.56 L434.5,58.61 L434.83,56.97 L435.17,55.47 L435.5,53.99 L435.84,52.63 L436.18,51.44 L436.51,50.52 L436.85,49.92 L437.18,49.68 L437.52,49.51 L437.86,49.39 L438.19,49.3 L438.53,49.28 L438.86,49.54 L439.2,50.17 L439.54,51.05 L439.87,52.1 L440.21,53.2 L440.54,54.57 L440.88,56.39 L441.22,58.52 L441.55,60.82 L441.89,63.16 L442.22,65.4 L442.56,67.43 L442.9,69.44 L443.23,71.45 L443.57,73.45 L443.9,75.41 L444.24,77.32 L444.58,79.17 L444.91,81 L445.25,82.85 L445.58,84.67 L445.92,86.41 L446.26,88.01 L446.59,89.44 L446.93,90.69 L447.26,91.94 L447.6,93.15 L447.94,94.25 L448.27,95.19 L448.61,95.9 L448.94,96.32 L449.28,96.51 L449.62,96.63 L449.95,96.81 L450.29,97.17 L450.62,97.73 L450.96,98.39 L451.3,99.09 L451.63,99.75 L451.97,100.35 L452.3,100.93 L452.64,101.53 L452.98,102.16 L453.31,102.86 L453.65,103.66 L453.98,104.61 L454.32,105.73 L454.66,106.97 L454.99,108.29 L455.33,109.66 L455.66,111.02 L456,112.34 L456.34,113.57 L456.67,114.74 L457.01,115.91 L457.34,117.06 L457.68,118.2 L458.02,119.32 L458.35,120.43 L458.69,121.51 L459.02,122.57 L459.36,123.61 L459.7,124.62 L460.03,125.61 L460.37,126.59 L460.7,127.55 L461.04,128.5 L461.38,129.43 L461.71,130.35 L462.05,131.26 L462.38,132.18 L462.72,133.11 L463.06,134.01 L463.39,134.9 L463.73,135.74 L464.06,136.54 L464.4,137.27 L464.74,137.95 L465.07,138.6 L465.41,139.22 L465.74,139.82 L466.08,140.4 L466.42,140.95 L466.75,141.48 L467.09,141.98 L467.42,142.47 L467.76,142.93 L468.1,143.36 L468.43,143.77 L468.77,144.17 L469.1,144.55 L469.44,144.91 L469.78,145.27 L470.11,145.61 L470.45,145.94 L470.78,146.26 L471.12,146.57 L471.46,146.88 L471.79,147.18 L472.13,147.49 L472.46,147.79 L472.8,148.09 L473.14,148.39 L473.47,148.69 L473.81,148.98 L474.14,149.28 L474.48,149.57 L474.82,149.85 L475.15,150.13 L475.49,150.4 L475.82,150.66 L476.16,150.91 L476.5,151.15 L476.83,151.38 L477.17,151.59 L477.5,151.8 L477.84,151.99 L478.18,152.18 L478.51,152.36 L478.85,152.54 L479.18,152.71 L479.52,152.88 L479.86,153.04 L480.19,153.2 L480.53,153.35 L480.86,153.51 L481.2,153.66 L481.54,153.81 L481.87,153.97 L482.21,154.12 L482.54,154.27 L482.88,154.43 L483.22,154.58 L483.55,154.73 L483.89,154.87 L484.22,155.02 L484.56,155.16 L484.9,155.3 L485.23,155.44 L485.57,155.58 L485.9,155.72 L486.24,155.86 L486.58,156 L486.91,156.15 L487.25,156.3 L487.58,156.45 L487.92,156.61 L488.26,156.77 L488.59,156.93 L488.93,157.1 L489.26,157.27 L489.6,157.45 L489.94,157.63 L490.27,157.81 L490.61,157.99 L490.94,158.17 L491.28,158.36 L491.62,158.55" stroke="#959595" stroke-width="1.6"/>
<path d="M349.82,161 L350.16,161 L350.5,161 L350.83,161 L351.17,161 L351.5,161 L351.84,161 L352.18,161 L352.51,161 L352.85,161 L353.18,161 L353.52,161 L353.86,161 L354.19,161 L354.53,161 L354.86,161 L355.2,161 L355.54,161 L355.87,161 L356.21,161 L356.54,161 L356.88,161 L357.22,161 L357.55,161 L357.89,161 L358.22,161 L358.56,161 L358.9,161 L359.23,161 L359.57,161 L359.9,161 L360.24,161 L360.58,161 L360.91,161 L361.25,161 L361.58,161 L361.92,161 L362.26,161 L362.59,161 L362.93,161 L363.26,161 L363.6,161 L363.94,161 L364.27,161 L364.61,161 L364.94,161 L365.28,161 L365.62,161 L365.95,161 L366.29,161 L366.62,161 L366.96,161 L367.3,161 L367.63,161 L367.97,161 L368.3,161 L368.64,161 L368.98,161 L369.31,161 L369.65,161 L369.98,161 L370.32,161 L370.66,161 L370.99,161 L371.33,161 L371.66,161 L372,161 L372.34,161 L372.67,161 L373.01,161 L373.34,161 L373.68,161 L374.02,161 L374.35,161 L374.69,161 L375.02,161 L375.36,161 L375.7,161 L376.03,161 L376.37,161 L376.7,161 L377.04,161 L377.38,161 L377.71,161 L378.05,161 L378.38,161 L378.72,161 L379.06,161 L379.39,161 L379.73,161 L380.06,161 L380.4,161 L380.74,161 L381.07,161 L381.41,161 L381.74,161 L382.08,161 L382.42,161 L382.75,161 L383.09,161 L383.42,161 L383.76,161 L384.1,161 L384.43,161 L384.77,161 L385.1,161 L385.44,161 L385.78,161 L386.11,161 L386.45,161 L386.78,161 L387.12,161 L387.46,161 L387.79,160.98 L388.13,160.96 L388.46,160.92 L388.8,160.88 L389.14,160.83 L389.47,160.77 L389.81,160.71 L390.14,160.48 L390.48,159.96 L390.82,159.2 L391.15,158.24 L391.49,157.11 L391.82,155.86 L392.16,154.53 L392.5,153.16 L392.83,151.56 L393.17,149.56 L393.5,147.23 L393.84,144.64 L394.18,141.86 L394.51,138.89 L394.85,135.43 L395.18,131.54 L395.52,127.39 L395.86,123.1 L396.19,118.83 L396.53,114.69 L396.86,110.47 L397.2,106.13 L397.54,101.78 L397.87,97.49 L398.21,93.35 L398.54,89.46 L398.88,85.64 L399.22,81.8 L399.55,78.11 L399.89,74.77 L400.22,71.98 L400.56,69.82 L400.9,67.91 L401.23,66.25 L401.57,64.91 L401.9,63.98 L402.24,63.32 L402.58,63 L402.91,63.17 L403.25,63.63 L403.58,64.31 L403.92,65.12 L404.26,65.98 L404.59,66.83 L404.93,67.58 L405.26,68.19 L405.6,68.76 L405.94,69.32 L406.27,69.86 L406.61,70.38 L406.94,70.88 L407.28,71.36 L407.62,71.82 L407.95,72.24 L408.29,72.63 L408.62,72.99 L408.96,73.35 L409.3,73.7 L409.63,74.07 L409.97,74.46 L410.3,74.89 L410.64,75.32 L410.98,75.76 L411.31,76.21 L411.65,76.69 L411.98,77.21 L412.32,77.78 L412.66,78.41 L412.99,79.13 L413.33,80.03 L413.66,81.07 L414,82.21 L414.34,83.42 L414.67,84.65 L415.01,85.86 L415.34,87.01 L415.68,88.11 L416.02,89.2 L416.35,90.3 L416.69,91.4 L417.02,92.52 L417.36,93.67 L417.7,94.85 L418.03,96.09 L418.37,97.38 L418.7,98.73 L419.04,100.1 L419.38,101.49 L419.71,102.89 L420.05,104.27 L420.38,105.63 L420.72,106.98 L421.06,108.33 L421.39,109.69 L421.73,111.03 L422.06,112.36 L422.4,113.67 L422.74,114.94 L423.07,116.2 L423.41,117.47 L423.74,118.74 L424.08,119.99 L424.42,121.23 L424.75,122.43 L425.09,123.59 L425.42,124.69 L425.76,125.73 L426.1,126.7 L426.43,127.61 L426.77,128.49 L427.1,129.33 L427.44,130.14 L427.78,130.93 L428.11,131.69 L428.45,132.43 L428.78,133.14 L429.12,133.84 L429.46,134.53 L429.79,135.2 L430.13,135.85 L430.46,136.5 L430.8,137.14 L431.14,137.76 L431.47,138.38 L431.81,138.98 L432.14,139.57 L432.48,140.15 L432.82,140.71 L433.15,141.27 L433.49,141.81 L433.82,142.34 L434.16,142.86 L434.5,143.36 L434.83,143.86 L435.17,144.34 L435.5,144.81 L435.84,145.28 L436.18,145.75 L436.51,146.21 L436.85,146.66 L437.18,147.1 L437.52,147.54 L437.86,147.97 L438.19,148.4 L438.53,148.81 L438.86,149.21 L439.2,149.6 L439.54,149.98 L439.87,150.35 L440.21,150.71 L440.54,151.05 L440.88,151.38 L441.22,151.69 L441.55,151.99 L441.89,152.29 L442.22,152.58 L442.56,152.87 L442.9,153.15 L443.23,153.42 L443.57,153.69 L443.9,153.95 L444.24,154.2 L444.58,154.45 L444.91,154.68 L445.25,154.91 L445.58,155.13 L445.92,155.34 L446.26,155.55 L446.59,155.74 L446.93,155.92 L447.26,156.1 L447.6,156.27 L447.94,156.43 L448.27,156.6 L448.61,156.75 L448.94,156.91 L449.28,157.06 L449.62,157.21 L449.95,157.35 L450.29,157.49 L450.62,157.63 L450.96,157.76 L451.3,157.89 L451.63,158.01 L451.97,158.13 L452.3,158.25 L452.64,158.36 L452.98,158.47 L453.31,158.58 L453.65,158.68 L453.98,158.77 L454.32,158.87 L454.66,158.96 L454.99,159.04 L455.33,159.12 L455.66,159.2 L456,159.28 L456.34,159.37 L456.67,159.45 L457.01,159.52 L457.34,159.6 L457.68,159.68 L458.02,159.75 L458.35,159.83 L458.69,159.9 L459.02,159.97 L459.36,160.04 L459.7,160.1 L460.03,160.16 L460.37,160.23 L460.7,160.28 L461.04,160.34 L461.38,160.39 L461.71,160.44 L462.05,160.49 L462.38,160.53 L462.72,160.57 L463.06,160.6 L463.39,160.64 L463.73,160.66 L464.06,160.69 L464.4,160.71 L464.74,160.72 L465.07,160.74 L465.41,160.76 L465.74,160.77 L466.08,160.79 L466.42,160.8 L466.75,160.82 L467.09,160.83 L467.42,160.84 L467.76,160.86 L468.1,160.87 L468.43,160.88 L468.77,160.89 L469.1,160.91 L469.44,160.92 L469.78,160.93 L470.11,160.94 L470.45,160.95 L470.78,160.95 L471.12,160.96 L471.46,160.97 L471.79,160.97 L472.13,160.98 L472.46,160.99 L472.8,160.99 L473.14,160.99 L473.47,161 L473.81,161 L474.14,161 L474.48,161 L474.82,161 L475.15,161 L475.49,161 L475.82,161 L476.16,161 L476.5,161 L476.83,161 L477.17,161 L477.5,161 L477.84,161 L478.18,161 L478.51,161 L478.85,161 L479.18,161 L479.52,161 L479.86,161 L480.19,161 L480.53,161 L480.86,161 L481.2,161 L481.54,161 L481.87,161 L482.21,161 L482.54,161 L482.88,161 L483.22,161 L483.55,161 L483.89,161 L484.22,161 L484.56,161 L484.9,161 L485.23,161 L485.57,161 L485.9,161 L486.24,161 L486.58,161 L486.91,161 L487.25,161 L487.58,161 L487.92,161 L488.26,161 L488.59,161 L488.93,161 L489.26,161 L489.6,161 L489.94,161 L490.27,161 L490.61,161 L490.94,161 L491.28,161 L491.62,161" stroke="#55c48e"/>
<path d="M349.82,160.5 H491.62" stroke="#e06a5a" stroke-width="0.8" stroke-opacity="0.35"/>
<path d="M491.62,161 H508.42" stroke="#e05a5a" stroke-width="1.2"/>
<path d="M349.82,161.2 H491.62" stroke="#4f9a65" stroke-width="1.3"/>
</g>
<text x="276.6" y="18.4" font-size="20" font-weight="bold" fill="#000" textLength="22.5" lengthAdjust="spacingAndGlyphs">(b)</text>
<text class="serif" x="414.2" y="13.3" font-size="13" fill="#111" textLength="31" lengthAdjust="spacingAndGlyphs">OLED</text>
<text class="serif" x="334.8" y="38.9" font-size="14.5" fill="#111" textLength="16.4" lengthAdjust="spacingAndGlyphs">UV</text>
<text class="serif" x="507.3" y="38.9" font-size="14" fill="#111" textLength="11.5" lengthAdjust="spacingAndGlyphs">IR</text>
<g font-size="10.6" fill="#2e2e2e" text-anchor="end">
<text x="320.4" y="164.9" textLength="5.25" lengthAdjust="spacingAndGlyphs">0</text>
<text x="320.4" y="145.3" textLength="13.11" lengthAdjust="spacingAndGlyphs">0.2</text>
<text x="320.4" y="125.7" textLength="13.11" lengthAdjust="spacingAndGlyphs">0.4</text>
<text x="320.4" y="106.1" textLength="13.11" lengthAdjust="spacingAndGlyphs">0.6</text>
<text x="320.4" y="86.5" textLength="13.11" lengthAdjust="spacingAndGlyphs">0.8</text>
<text x="320.4" y="66.9" textLength="5.25" lengthAdjust="spacingAndGlyphs">1</text>
<text x="320.4" y="47.3" textLength="13.11" lengthAdjust="spacingAndGlyphs">1.2</text>
<text x="320.4" y="27.7" textLength="13.11" lengthAdjust="spacingAndGlyphs">1.4</text>
</g>
<g font-size="10.6" fill="#2e2e2e" text-anchor="middle">
<text x="330" y="179.6" textLength="15.74" lengthAdjust="spacingAndGlyphs">300</text>
<text x="363.6" y="179.6" textLength="15.74" lengthAdjust="spacingAndGlyphs">400</text>
<text x="397.2" y="179.6" textLength="15.74" lengthAdjust="spacingAndGlyphs">500</text>
<text x="430.8" y="179.6" textLength="15.74" lengthAdjust="spacingAndGlyphs">600</text>
<text x="464.4" y="179.6" textLength="15.74" lengthAdjust="spacingAndGlyphs">700</text>
<text x="498" y="179.6" textLength="15.74" lengthAdjust="spacingAndGlyphs">800</text>
<text x="531.6" y="179.6" textLength="15.74" lengthAdjust="spacingAndGlyphs">900</text>
</g>
<text x="373.6" y="200.6" font-size="15.5" fill="#111" stroke="#111" stroke-width="0.3" textLength="121.5" lengthAdjust="spacingAndGlyphs">Wavelength (nm)</text>
<text transform="translate(293.3,130.9) rotate(-90)" x="0" y="0" font-size="15.5" fill="#111" stroke="#111" stroke-width="0.3" textLength="61.8" lengthAdjust="spacingAndGlyphs">Intensity</text>
<text x="13.5" y="214.6" font-size="20" font-weight="bold" fill="#000" textLength="20.2" lengthAdjust="spacingAndGlyphs">(<tspan font-size="17">c</tspan>)</text>
<g fill="none" stroke-width="1.85">
<path d="M52.8,376.9 L53.45,376.9 L54.1,376.9 L54.75,376.9 L55.4,376.9 L56.06,376.9 L56.71,376.9 L57.36,376.9 L58.01,376.9 L58.66,376.9 L59.31,376.9 L59.96,376.9 L60.61,376.9 L61.27,376.9 L61.92,376.9 L62.57,376.9 L63.22,376.9 L63.87,376.9 L64.52,376.9 L65.17,376.9 L65.82,376.9 L66.47,376.89 L67.13,376.89 L67.78,376.88 L68.43,376.87 L69.08,376.85 L69.73,376.83 L70.38,376.8 L71.03,376.77 L71.68,376.72 L72.34,376.67 L72.99,376.6 L73.64,376.53 L74.29,376.44 L74.94,376.34 L75.59,376.23 L76.24,376.1 L76.89,375.96 L77.54,375.81 L78.2,375.64 L78.85,375.47 L79.5,375.28 L80.15,375.08 L80.8,374.86 L81.45,374.64 L82.1,374.41 L82.75,374.17 L83.41,373.93 L84.06,373.68 L84.71,373.43 L85.36,373.17 L86.01,372.91 L86.66,372.64 L87.31,372.38 L87.96,372.12 L88.61,371.86 L89.27,371.6 L89.92,371.35 L90.57,371.09 L91.22,370.85 L91.87,370.6 L92.52,370.37 L93.17,370.14 L93.82,369.91 L94.47,369.7 L95.13,369.49 L95.78,369.29 L96.43,369.09 L97.08,368.91 L97.73,368.73 L98.38,368.56 L99.03,368.4 L99.68,368.25 L100.34,368.1 L100.99,367.97 L101.64,367.84 L102.29,367.72 L102.94,367.61 L103.59,367.51 L104.24,367.41 L104.89,367.33 L105.54,367.25 L106.2,367.18 L106.85,367.11 L107.5,367.06 L108.15,367.01 L108.8,366.96 L109.45,366.93 L110.1,366.9 L110.75,366.87 L111.41,366.86 L112.06,366.84 L112.71,366.84 L113.36,366.83 L114.01,366.84 L114.66,366.85 L115.31,366.86 L115.96,366.88 L116.61,366.9 L117.27,366.92 L117.92,366.95 L118.57,366.98 L119.22,367.02 L119.87,367.06 L120.52,367.1 L121.17,367.15 L121.82,367.2 L122.48,367.25 L123.13,367.3 L123.78,367.36 L124.43,367.41 L125.08,367.47 L125.73,367.54 L126.38,367.6 L127.03,367.66 L127.68,367.73 L128.34,367.8 L128.99,367.87 L129.64,367.94 L130.29,368.01 L130.94,368.08 L131.59,368.15 L132.24,368.23 L132.89,368.3 L133.55,368.38 L134.2,368.45 L134.85,368.53 L135.5,368.61 L136.15,368.68 L136.8,368.76 L137.45,368.84 L138.1,368.92 L138.75,368.99 L139.41,369.07 L140.06,369.15 L140.71,369.23 L141.36,369.31 L142.01,369.38 L142.66,369.46 L143.31,369.54 L143.96,369.61 L144.62,369.69 L145.27,369.77 L145.92,369.84 L146.57,369.92 L147.22,369.99 L147.87,370.07 L148.52,370.14 L149.17,370.22 L149.82,370.29 L150.48,370.36 L151.13,370.44 L151.78,370.51 L152.43,370.58 L153.08,370.65 L153.73,370.72 L154.38,370.79 L155.03,370.86 L155.68,370.93 L156.34,370.99 L156.99,371.06 L157.64,371.13 L158.29,371.19 L158.94,371.26 L159.59,371.32 L160.24,371.39 L160.89,371.45 L161.55,371.51 L162.2,371.58 L162.85,371.64 L163.5,371.7 L164.15,371.76 L164.8,371.82 L165.45,371.88 L166.1,371.94 L166.75,371.99 L167.41,372.05 L168.06,372.11 L168.71,372.16 L169.36,372.22 L170.01,372.27 L170.66,372.33 L171.31,372.38 L171.96,372.43 L172.62,372.48 L173.27,372.54 L173.92,372.59 L174.57,372.64 L175.22,372.69 L175.87,372.74 L176.52,372.78 L177.17,372.83 L177.82,372.88 L178.48,372.93 L179.13,372.97 L179.78,373.02 L180.43,373.06 L181.08,373.11 L181.73,373.15 L182.38,373.19 L183.03,373.24 L183.69,373.28 L184.34,373.32 L184.99,373.36 L185.64,373.4 L186.29,373.44 L186.94,373.48 L187.59,373.52 L188.24,373.56 L188.89,373.6 L189.55,373.64 L190.2,373.68 L190.85,373.71 L191.5,373.75 L192.15,373.78 L192.8,373.82 L193.45,373.86 L194.1,373.89 L194.76,373.92 L195.41,373.96 L196.06,373.99 L196.71,374.02 L197.36,374.06 L198.01,374.09 L198.66,374.12 L199.31,374.15 L199.96,374.18 L200.62,374.21 L201.27,374.24 L201.92,374.27 L202.57,374.3 L203.22,374.33 L203.87,374.36 L204.52,374.39 L205.17,374.41 L205.83,374.44 L206.48,374.47 L207.13,374.5 L207.78,374.52 L208.43,374.55 L209.08,374.57 L209.73,374.6 L210.38,374.63 L211.03,374.65 L211.69,374.67 L212.34,374.7 L212.99,374.72 L213.64,374.75 L214.29,374.77 L214.94,374.79 L215.59,374.82 L216.24,374.84 L216.89,374.86 L217.55,374.88 L218.2,374.9 L218.85,374.92 L219.5,374.95 L220.15,374.97 L220.8,374.99 L221.45,375.01 L222.1,375.03 L222.76,375.05 L223.41,375.07 L224.06,375.09 L224.71,375.1 L225.36,375.12 L226.01,375.14 L226.66,375.16 L227.31,375.18 L227.96,375.2 L228.62,375.21 L229.27,375.23 L229.92,375.25 L230.57,375.27 L231.22,375.28 L231.87,375.3 L232.52,375.32 L233.17,375.33 L233.83,375.35 L234.48,375.36 L235.13,375.38 L235.78,375.4 L236.43,375.41 L237.08,375.43 L237.73,375.44 L238.38,375.46 L239.03,375.47 L239.69,375.48 L240.34,375.5 L240.99,375.51 L241.64,375.53 L242.29,375.54 L242.94,375.55 L243.59,375.57 L244.24,375.58 L244.9,375.59 L245.55,375.61 L246.2,375.62 L246.85,375.63 L247.5,375.64" stroke="#e65a5a"/>
<path d="M52.8,376.9 L53.45,376.9 L54.1,376.9 L54.75,376.9 L55.4,376.9 L56.06,376.9 L56.71,376.9 L57.36,376.9 L58.01,376.9 L58.66,376.9 L59.31,376.9 L59.96,376.9 L60.61,376.9 L61.27,376.89 L61.92,376.87 L62.57,376.85 L63.22,376.81 L63.87,376.74 L64.52,376.63 L65.17,376.48 L65.82,376.27 L66.47,376 L67.13,375.65 L67.78,375.21 L68.43,374.68 L69.08,374.06 L69.73,373.33 L70.38,372.51 L71.03,371.59 L71.68,370.58 L72.34,369.48 L72.99,368.3 L73.64,367.04 L74.29,365.73 L74.94,364.36 L75.59,362.95 L76.24,361.51 L76.89,360.05 L77.54,358.58 L78.2,357.1 L78.85,355.64 L79.5,354.19 L80.15,352.76 L80.8,351.37 L81.45,350.01 L82.1,348.7 L82.75,347.44 L83.41,346.23 L84.06,345.07 L84.71,343.98 L85.36,342.94 L86.01,341.97 L86.66,341.06 L87.31,340.21 L87.96,339.43 L88.61,338.71 L89.27,338.05 L89.92,337.45 L90.57,336.92 L91.22,336.44 L91.87,336.02 L92.52,335.66 L93.17,335.35 L93.82,335.09 L94.47,334.88 L95.13,334.71 L95.78,334.6 L96.43,334.52 L97.08,334.49 L97.73,334.49 L98.38,334.54 L99.03,334.61 L99.68,334.72 L100.34,334.86 L100.99,335.03 L101.64,335.22 L102.29,335.44 L102.94,335.68 L103.59,335.95 L104.24,336.23 L104.89,336.53 L105.54,336.85 L106.2,337.19 L106.85,337.53 L107.5,337.89 L108.15,338.27 L108.8,338.65 L109.45,339.04 L110.1,339.44 L110.75,339.85 L111.41,340.26 L112.06,340.68 L112.71,341.1 L113.36,341.53 L114.01,341.96 L114.66,342.4 L115.31,342.83 L115.96,343.27 L116.61,343.7 L117.27,344.14 L117.92,344.58 L118.57,345.01 L119.22,345.45 L119.87,345.88 L120.52,346.31 L121.17,346.74 L121.82,347.17 L122.48,347.59 L123.13,348.01 L123.78,348.43 L124.43,348.85 L125.08,349.26 L125.73,349.66 L126.38,350.07 L127.03,350.47 L127.68,350.86 L128.34,351.25 L128.99,351.64 L129.64,352.02 L130.29,352.4 L130.94,352.77 L131.59,353.14 L132.24,353.5 L132.89,353.86 L133.55,354.21 L134.2,354.56 L134.85,354.9 L135.5,355.24 L136.15,355.58 L136.8,355.91 L137.45,356.23 L138.1,356.55 L138.75,356.87 L139.41,357.18 L140.06,357.48 L140.71,357.78 L141.36,358.08 L142.01,358.37 L142.66,358.66 L143.31,358.94 L143.96,359.22 L144.62,359.49 L145.27,359.76 L145.92,360.03 L146.57,360.29 L147.22,360.55 L147.87,360.8 L148.52,361.05 L149.17,361.29 L149.82,361.53 L150.48,361.77 L151.13,362 L151.78,362.23 L152.43,362.45 L153.08,362.67 L153.73,362.89 L154.38,363.11 L155.03,363.32 L155.68,363.52 L156.34,363.73 L156.99,363.92 L157.64,364.12 L158.29,364.31 L158.94,364.5 L159.59,364.69 L160.24,364.87 L160.89,365.05 L161.55,365.23 L162.2,365.41 L162.85,365.58 L163.5,365.75 L164.15,365.91 L164.8,366.07 L165.45,366.23 L166.1,366.39 L166.75,366.55 L167.41,366.7 L168.06,366.85 L168.71,366.99 L169.36,367.14 L170.01,367.28 L170.66,367.42 L171.31,367.56 L171.96,367.69 L172.62,367.83 L173.27,367.96 L173.92,368.08 L174.57,368.21 L175.22,368.34 L175.87,368.46 L176.52,368.58 L177.17,368.7 L177.82,368.81 L178.48,368.93 L179.13,369.04 L179.78,369.15 L180.43,369.26 L181.08,369.36 L181.73,369.47 L182.38,369.57 L183.03,369.67 L183.69,369.77 L184.34,369.87 L184.99,369.97 L185.64,370.06 L186.29,370.16 L186.94,370.25 L187.59,370.34 L188.24,370.43 L188.89,370.52 L189.55,370.6 L190.2,370.69 L190.85,370.77 L191.5,370.85 L192.15,370.94 L192.8,371.01 L193.45,371.09 L194.1,371.17 L194.76,371.25 L195.41,371.32 L196.06,371.39 L196.71,371.47 L197.36,371.54 L198.01,371.61 L198.66,371.68 L199.31,371.74 L199.96,371.81 L200.62,371.88 L201.27,371.94 L201.92,372.01 L202.57,372.07 L203.22,372.13 L203.87,372.19 L204.52,372.25 L205.17,372.31 L205.83,372.37 L206.48,372.43 L207.13,372.48 L207.78,372.54 L208.43,372.59 L209.08,372.65 L209.73,372.7 L210.38,372.75 L211.03,372.8 L211.69,372.85 L212.34,372.9 L212.99,372.95 L213.64,373 L214.29,373.05 L214.94,373.1 L215.59,373.14 L216.24,373.19 L216.89,373.23 L217.55,373.28 L218.2,373.32 L218.85,373.36 L219.5,373.41 L220.15,373.45 L220.8,373.49 L221.45,373.53 L222.1,373.57 L222.76,373.61 L223.41,373.65 L224.06,373.69 L224.71,373.72 L225.36,373.76 L226.01,373.8 L226.66,373.83 L227.31,373.87 L227.96,373.9 L228.62,373.94 L229.27,373.97 L229.92,374.01 L230.57,374.04 L231.22,374.07 L231.87,374.11 L232.52,374.14 L233.17,374.17 L233.83,374.2 L234.48,374.23 L235.13,374.26 L235.78,374.29 L236.43,374.32 L237.08,374.35 L237.73,374.38 L238.38,374.4 L239.03,374.43 L239.69,374.46 L240.34,374.49 L240.99,374.51 L241.64,374.54 L242.29,374.57 L242.94,374.59 L243.59,374.62 L244.24,374.64 L244.9,374.67 L245.55,374.69 L246.2,374.71 L246.85,374.74 L247.5,374.76" stroke="#45a045"/>
<path d="M52.8,376.9 L53.45,376.9 L54.1,376.9 L54.75,376.9 L55.4,376.9 L56.06,376.9 L56.71,376.9 L57.36,376.9 L58.01,376.89 L58.66,376.88 L59.31,376.83 L59.96,376.74 L60.61,376.56 L61.27,376.25 L61.92,375.74 L62.57,374.97 L63.22,373.88 L63.87,372.42 L64.52,370.53 L65.17,368.19 L65.82,365.38 L66.47,362.09 L67.13,358.36 L67.78,354.19 L68.43,349.65 L69.08,344.77 L69.73,339.62 L70.38,334.26 L71.03,328.75 L71.68,323.15 L72.34,317.53 L72.99,311.93 L73.64,306.41 L74.29,301.02 L74.94,295.8 L75.59,290.78 L76.24,285.99 L76.89,281.46 L77.54,277.19 L78.2,273.22 L78.85,269.54 L79.5,266.16 L80.15,263.09 L80.8,260.31 L81.45,257.84 L82.1,255.65 L82.75,253.75 L83.41,252.13 L84.06,250.77 L84.71,249.66 L85.36,248.79 L86.01,248.15 L86.66,247.73 L87.31,247.5 L87.96,247.47 L88.61,247.62 L89.27,247.92 L89.92,248.39 L90.57,248.99 L91.22,249.72 L91.87,250.57 L92.52,251.53 L93.17,252.58 L93.82,253.73 L94.47,254.95 L95.13,256.25 L95.78,257.61 L96.43,259.02 L97.08,260.49 L97.73,261.99 L98.38,263.54 L99.03,265.11 L99.68,266.71 L100.34,268.33 L100.99,269.97 L101.64,271.62 L102.29,273.28 L102.94,274.95 L103.59,276.62 L104.24,278.28 L104.89,279.94 L105.54,281.6 L106.2,283.25 L106.85,284.89 L107.5,286.51 L108.15,288.13 L108.8,289.73 L109.45,291.31 L110.1,292.87 L110.75,294.42 L111.41,295.95 L112.06,297.46 L112.71,298.94 L113.36,300.41 L114.01,301.85 L114.66,303.28 L115.31,304.68 L115.96,306.05 L116.61,307.41 L117.27,308.74 L117.92,310.05 L118.57,311.34 L119.22,312.6 L119.87,313.84 L120.52,315.06 L121.17,316.25 L121.82,317.43 L122.48,318.58 L123.13,319.7 L123.78,320.81 L124.43,321.9 L125.08,322.96 L125.73,324 L126.38,325.02 L127.03,326.02 L127.68,327 L128.34,327.97 L128.99,328.91 L129.64,329.83 L130.29,330.73 L130.94,331.62 L131.59,332.48 L132.24,333.33 L132.89,334.16 L133.55,334.97 L134.2,335.77 L134.85,336.55 L135.5,337.31 L136.15,338.06 L136.8,338.79 L137.45,339.51 L138.1,340.21 L138.75,340.89 L139.41,341.57 L140.06,342.22 L140.71,342.87 L141.36,343.5 L142.01,344.11 L142.66,344.72 L143.31,345.31 L143.96,345.89 L144.62,346.45 L145.27,347.01 L145.92,347.55 L146.57,348.08 L147.22,348.6 L147.87,349.11 L148.52,349.61 L149.17,350.1 L149.82,350.58 L150.48,351.05 L151.13,351.51 L151.78,351.96 L152.43,352.4 L153.08,352.83 L153.73,353.25 L154.38,353.66 L155.03,354.07 L155.68,354.46 L156.34,354.85 L156.99,355.23 L157.64,355.61 L158.29,355.97 L158.94,356.33 L159.59,356.68 L160.24,357.02 L160.89,357.36 L161.55,357.69 L162.2,358.01 L162.85,358.33 L163.5,358.64 L164.15,358.94 L164.8,359.24 L165.45,359.53 L166.1,359.82 L166.75,360.1 L167.41,360.38 L168.06,360.65 L168.71,360.91 L169.36,361.17 L170.01,361.43 L170.66,361.67 L171.31,361.92 L171.96,362.16 L172.62,362.39 L173.27,362.63 L173.92,362.85 L174.57,363.07 L175.22,363.29 L175.87,363.51 L176.52,363.72 L177.17,363.92 L177.82,364.12 L178.48,364.32 L179.13,364.52 L179.78,364.71 L180.43,364.89 L181.08,365.08 L181.73,365.26 L182.38,365.43 L183.03,365.61 L183.69,365.78 L184.34,365.95 L184.99,366.11 L185.64,366.27 L186.29,366.43 L186.94,366.59 L187.59,366.74 L188.24,366.89 L188.89,367.04 L189.55,367.18 L190.2,367.32 L190.85,367.46 L191.5,367.6 L192.15,367.73 L192.8,367.87 L193.45,368 L194.1,368.12 L194.76,368.25 L195.41,368.37 L196.06,368.49 L196.71,368.61 L197.36,368.73 L198.01,368.85 L198.66,368.96 L199.31,369.07 L199.96,369.18 L200.62,369.29 L201.27,369.39 L201.92,369.49 L202.57,369.6 L203.22,369.7 L203.87,369.8 L204.52,369.89 L205.17,369.99 L205.83,370.08 L206.48,370.17 L207.13,370.26 L207.78,370.35 L208.43,370.44 L209.08,370.53 L209.73,370.61 L210.38,370.7 L211.03,370.78 L211.69,370.86 L212.34,370.94 L212.99,371.02 L213.64,371.09 L214.29,371.17 L214.94,371.24 L215.59,371.32 L216.24,371.39 L216.89,371.46 L217.55,371.53 L218.2,371.6 L218.85,371.67 L219.5,371.73 L220.15,371.8 L220.8,371.86 L221.45,371.93 L222.1,371.99 L222.76,372.05 L223.41,372.11 L224.06,372.17 L224.71,372.23 L225.36,372.29 L226.01,372.34 L226.66,372.4 L227.31,372.46 L227.96,372.51 L228.62,372.56 L229.27,372.62 L229.92,372.67 L230.57,372.72 L231.22,372.77 L231.87,372.82 L232.52,372.87 L233.17,372.92 L233.83,372.97 L234.48,373.01 L235.13,373.06 L235.78,373.1 L236.43,373.15 L237.08,373.19 L237.73,373.24 L238.38,373.28 L239.03,373.32 L239.69,373.36 L240.34,373.4 L240.99,373.45 L241.64,373.49 L242.29,373.52 L242.94,373.56 L243.59,373.6 L244.24,373.64 L244.9,373.68 L245.55,373.71 L246.2,373.75 L246.85,373.79 L247.5,373.82" stroke="#5050e6"/>
<path d="M134.38,223.9 L134.95,227.93 L135.52,231.83 L136.09,235.6 L136.66,239.25 L137.23,242.78 L137.79,246.2 L138.36,249.52 L138.93,252.72 L139.5,255.83 L140.07,258.84 L140.64,261.76 L141.21,264.59 L141.77,267.33 L142.34,269.99 L142.91,272.57 L143.48,275.07 L144.05,277.5 L144.62,279.85 L145.18,282.14 L145.75,284.36 L146.32,286.51 L146.89,288.6 L147.46,290.63 L148.03,292.61 L148.59,294.52 L149.16,296.39 L149.73,298.2 L150.3,299.96 L150.87,301.67 L151.44,303.33 L152.01,304.95 L152.57,306.53 L153.14,308.06 L153.71,309.55 L154.28,311 L154.85,312.41 L155.42,313.78 L155.98,315.12 L156.55,316.42 L157.12,317.69 L157.69,318.92 L158.26,320.13 L158.83,321.3 L159.39,322.44 L159.96,323.55 L160.53,324.63 L161.1,325.69 L161.67,326.72 L162.24,327.73 L162.81,328.71 L163.37,329.66 L163.94,330.59 L164.51,331.5 L165.08,332.39 L165.65,333.25 L166.22,334.1 L166.78,334.92 L167.35,335.72 L167.92,336.51 L168.49,337.28 L169.06,338.02 L169.63,338.75 L170.19,339.47 L170.76,340.16 L171.33,340.85 L171.9,341.51 L172.47,342.16 L173.04,342.8 L173.61,343.42 L174.17,344.02 L174.74,344.62 L175.31,345.19 L175.88,345.76 L176.45,346.32 L177.02,346.86 L177.58,347.39 L178.15,347.91 L178.72,348.41 L179.29,348.91 L179.86,349.39 L180.43,349.87 L180.99,350.33 L181.56,350.79 L182.13,351.23 L182.7,351.67 L183.27,352.09 L183.84,352.51 L184.41,352.92 L184.97,353.32 L185.54,353.71 L186.11,354.09 L186.68,354.47 L187.25,354.84 L187.82,355.2 L188.38,355.55 L188.95,355.9 L189.52,356.24 L190.09,356.57 L190.66,356.89 L191.23,357.21 L191.79,357.53 L192.36,357.83 L192.93,358.13 L193.5,358.43 L194.07,358.72 L194.64,359 L195.21,359.28 L195.77,359.55 L196.34,359.82 L196.91,360.08 L197.48,360.33 L198.05,360.59 L198.62,360.83 L199.18,361.08 L199.75,361.31 L200.32,361.55 L200.89,361.78 L201.46,362 L202.03,362.22 L202.59,362.44 L203.16,362.65 L203.73,362.86 L204.3,363.07 L204.87,363.27 L205.44,363.47 L206.01,363.66 L206.57,363.85 L207.14,364.04 L207.71,364.22 L208.28,364.4 L208.85,364.58 L209.42,364.75 L209.98,364.93 L210.55,365.09 L211.12,365.26 L211.69,365.42 L212.26,365.58 L212.83,365.74 L213.39,365.89 L213.96,366.04 L214.53,366.19 L215.1,366.34 L215.67,366.48 L216.24,366.62 L216.81,366.76 L217.37,366.9 L217.94,367.03 L218.51,367.16 L219.08,367.29 L219.65,367.42 L220.22,367.55 L220.78,367.67 L221.35,367.79 L221.92,367.91 L222.49,368.03 L223.06,368.15 L223.63,368.26 L224.19,368.37 L224.76,368.48 L225.33,368.59 L225.9,368.7 L226.47,368.8 L227.04,368.9 L227.61,369.01 L228.17,369.11 L228.74,369.2 L229.31,369.3 L229.88,369.4 L230.45,369.49 L231.02,369.58 L231.58,369.67 L232.15,369.76 L232.72,369.85 L233.29,369.94 L233.86,370.02 L234.43,370.11 L234.99,370.19 L235.56,370.27 L236.13,370.35 L236.7,370.43 L237.27,370.51 L237.84,370.59 L238.41,370.66 L238.97,370.74 L239.54,370.81 L240.11,370.88 L240.68,370.95 L241.25,371.02 L241.82,371.09 L242.38,371.16 L242.95,371.23 L243.52,371.29 L244.09,371.36 L244.66,371.42 L245.23,371.49 L245.79,371.55 L246.36,371.61 L246.93,371.67 L247.5,371.73" stroke="#40e6e6"/>
</g>
<path d="M49.4,224.3 V376.9 H247.5" fill="none" stroke="#7a7a7a" stroke-width="1.3"/>
<path d="M49.4,376.9h3M49.4,356.5h3M49.4,336.1h3M49.4,315.7h3M49.4,295.3h3M49.4,274.9h3M49.4,254.5h3M49.4,234.1h3M49.5,376.9v-3M82.5,376.9v-3M115.5,376.9v-3M148.5,376.9v-3M181.5,376.9v-3M214.5,376.9v-3M247.5,376.9v-3" stroke="#7a7a7a" stroke-width="0.8" fill="none"/>
<g font-size="5.5" fill="#666" text-anchor="end">
<text x="46.4" y="378.9">0</text>
<text x="46.4" y="358.5">2</text>
<text x="46.4" y="338.1">4</text>
<text x="46.4" y="317.7">6</text>
<text x="46.4" y="297.3">8</text>
<text x="46.4" y="276.9">10</text>
<text x="46.4" y="256.5">12</text>
<text x="46.4" y="236.1">14</text>
</g>
<g font-size="5.5" fill="#666" text-anchor="middle">
<text x="49.5" y="385.8">0</text>
<text x="82.5" y="385.8">0.5</text>
<text x="115.5" y="385.8">1</text>
<text x="148.5" y="385.8">1.5</text>
<text x="181.5" y="385.8">2</text>
<text x="214.5" y="385.8">2.5</text>
<text x="247.5" y="385.8">3</text>
</g>
<g font-size="5.5" fill="#555">
<text x="79.3" y="246">5000 K</text>
<text x="88.9" y="332.8">4000 K</text>
<text x="102.7" y="364.6">3000 K</text>
</g>
<text x="84" y="407.7" font-size="16.5" fill="#111" stroke="#111" stroke-width="0.3" textLength="121" lengthAdjust="spacingAndGlyphs">Wavelength (nm)</text>
<text transform="translate(28,356.3) rotate(-90)" x="0" y="0" font-size="16.5" fill="#111" stroke="#111" stroke-width="0.3" textLength="103.4" lengthAdjust="spacingAndGlyphs">Intensity (arb.)</text>
<text x="147.3" y="260.3" font-size="16" fill="#111" stroke="#111" stroke-width="0.3" textLength="113" lengthAdjust="spacingAndGlyphs">Classical Theory</text>
<text x="174.5" y="282" font-size="16.5" fill="#111" stroke="#111" stroke-width="0.3" textLength="58.6" lengthAdjust="spacingAndGlyphs">(5,000K)</text>
<text x="275.2" y="213.6" font-size="20" font-weight="bold" fill="#000" textLength="23.6" lengthAdjust="spacingAndGlyphs">(d)</text>
<rect x="328.3" y="213.3" width="208" height="45.7" fill="#00ff00"/>
<rect x="328.3" y="259" width="208" height="77.1" fill="#ffff00"/>
<rect x="328.3" y="336.1" width="208" height="38.6" fill="#ff0000"/>
<line x1="328.3" x2="536.5" y1="259" y2="259" stroke="#c8c8a0" stroke-width="0.8" stroke-dasharray="2,1"/>
<line x1="328.3" x2="536.5" y1="336.1" y2="336.1" stroke="#d0a040" stroke-width="0.8" stroke-dasharray="2,1"/>
<clipPath id="cpd"><rect x="328.3" y="213.3" width="208" height="161.4"/></clipPath>
<g clip-path="url(#cpd)">
<path d="M359,252.6 L358.3,275.6 L358.1,284.1 L358.1,284.1" fill="none" stroke="#1a1a1a" stroke-width="1.1"/>
<path d="M379.3,259 L384.3,288.6 L387.5,301.1 L388,302.6" fill="none" stroke="#1a1a1a" stroke-width="1.1"/>
<path d="M389.7,261.9 L402.9,294.9 L416.9,309.4 L417.6,311" fill="none" stroke="#1a1a1a" stroke-width="1.1"/>
<path d="M398.8,263.6 L418.6,298.5 L445.3,314 L447,316" fill="none" stroke="#1a1a1a" stroke-width="1.1"/>
<path d="M404.3,264.6 L430.3,300.6 L473.3,317.2 L477,319.1" fill="none" stroke="#1a1a1a" stroke-width="1.1"/>
<path d="M408.3,265.1 L439,302.7 L499.7,319.9 L506.8,321.7" fill="none" stroke="#1a1a1a" stroke-width="1.1"/>
<path d="M411.9,265.8 L446.1,304 L526,321.2 L535.8,324.3" fill="none" stroke="#1a1a1a" stroke-width="1.1"/>
<path d="M358.1,280.63 L361.75,287.57 L354.45,287.57 Z" fill="#000"/>
<path d="M388,299.13 L391.65,306.07 L384.35,306.07 Z" fill="#000"/>
<path d="M417.6,307.53 L421.25,314.47 L413.95,314.47 Z" fill="#000"/>
<path d="M447,312.53 L450.65,319.47 L443.35,319.47 Z" fill="#000"/>
<path d="M477,315.63 L480.65,322.57 L473.35,322.57 Z" fill="#000"/>
<path d="M506.8,318.23 L510.45,325.17 L503.15,325.17 Z" fill="#000"/>
<path d="M535.8,320.83 L539.45,327.77 L532.15,327.77 Z" fill="#000"/>
<path d="M358.1,280.63 L361.75,287.57 L354.45,287.57 Z" fill="#ff0000"/>
<path d="M387.5,297.63 L391.15,304.57 L383.85,304.57 Z" fill="#ff0000"/>
<path d="M416.9,305.93 L420.55,312.87 L413.25,312.87 Z" fill="#ff0000"/>
<path d="M445.3,310.53 L448.95,317.47 L441.65,317.47 Z" fill="#ff0000"/>
<path d="M473.3,313.73 L476.95,320.67 L469.65,320.67 Z" fill="#ff0000"/>
<path d="M499.7,316.43 L503.35,323.37 L496.05,323.37 Z" fill="#ff0000"/>
<path d="M526,317.73 L529.65,324.67 L522.35,324.67 Z" fill="#ff0000"/>
<path d="M358.3,272.13 L361.95,279.07 L354.65,279.07 Z" fill="#33ff33"/>
<path d="M384.3,285.13 L387.95,292.07 L380.65,292.07 Z" fill="#33ff33"/>
<path d="M402.9,291.43 L406.55,298.37 L399.25,298.37 Z" fill="#33ff33"/>
<path d="M418.6,295.03 L422.25,301.97 L414.95,301.97 Z" fill="#33ff33"/>
<path d="M430.3,297.13 L433.95,304.07 L426.65,304.07 Z" fill="#33ff33"/>
<path d="M439,299.23 L442.65,306.17 L435.35,306.17 Z" fill="#33ff33"/>
<path d="M446.1,300.53 L449.75,307.47 L442.45,307.47 Z" fill="#33ff33"/>
<path d="M359,249.13 L362.65,256.07 L355.35,256.07 Z" fill="#0000ff"/>
<path d="M379.3,255.53 L382.95,262.47 L375.65,262.47 Z" fill="#0000ff"/>
<path d="M389.7,258.43 L393.35,265.37 L386.05,265.37 Z" fill="#0000ff"/>
<path d="M398.8,260.13 L402.45,267.07 L395.15,267.07 Z" fill="#0000ff"/>
<path d="M404.3,261.13 L407.95,268.07 L400.65,268.07 Z" fill="#0000ff"/>
<path d="M408.3,261.63 L411.95,268.57 L404.65,268.57 Z" fill="#0000ff"/>
<path d="M411.9,262.33 L415.55,269.27 L408.25,269.27 Z" fill="#0000ff"/>
</g>
<path d="M328.3,374.7h3.5M328.3,363.05h2M328.3,356.24h2M328.3,351.4h2M328.3,347.65h2M328.3,344.59h2M328.3,341.99h2M328.3,339.75h2M328.3,337.77h2M328.3,336h3.5M328.3,324.35h2M328.3,317.54h2M328.3,312.7h2M328.3,308.95h2M328.3,305.89h2M328.3,303.29h2M328.3,301.05h2M328.3,299.07h2M328.3,297.3h3.5M328.3,285.65h2M328.3,278.84h2M328.3,274h2M328.3,270.25h2M328.3,267.19h2M328.3,264.59h2M328.3,262.35h2M328.3,260.37h2M328.3,258.6h3.5M328.3,246.95h2M328.3,240.14h2M328.3,235.3h2M328.3,231.55h2M328.3,228.49h2M328.3,225.89h2M328.3,223.65h2M328.3,221.67h2M328.3,219.9h3.5M358.04,374.7v-3M387.78,374.7v-3M417.52,374.7v-3M447.26,374.7v-3M477,374.7v-3M506.74,374.7v-3" stroke="#000" stroke-width="1" fill="none"/>
<rect x="328.3" y="213.3" width="208" height="161.4" fill="none" stroke="#000" stroke-width="1.2"/>
<rect x="441.4" y="326.7" width="87.6" height="45.9" fill="#fff" stroke="#000" stroke-width="0.9"/>
<path d="M451.2,330.18 L454.8,337.02 L447.6,337.02 Z" fill="#0000ff"/>
<text x="460.2" y="336.4" font-size="7.8" fill="#1a1a1a" textLength="12" lengthAdjust="spacingAndGlyphs">B-IV</text>
<text x="473.6" y="336.4" font-size="7.8" fill="#1a1a1a" textLength="47.4" lengthAdjust="spacingAndGlyphs">(500nm-660nm)</text>
<path d="M451.2,340.88 L454.8,347.72 L447.6,347.72 Z" fill="#33ff33"/>
<text x="460.2" y="347.1" font-size="7.8" fill="#1a1a1a" textLength="12.5" lengthAdjust="spacingAndGlyphs">B-III</text>
<text x="473.4" y="347.1" font-size="7.8" fill="#1a1a1a" textLength="47.6" lengthAdjust="spacingAndGlyphs">(460nm-700nm)</text>
<path d="M451.2,351.88 L454.8,358.72 L447.6,358.72 Z" fill="#ff0000"/>
<text x="461" y="358.1" font-size="7.8" fill="#1a1a1a" textLength="10.5" lengthAdjust="spacingAndGlyphs">B-II</text>
<text x="474.8" y="358.1" font-size="7.8" fill="#1a1a1a" textLength="46.2" lengthAdjust="spacingAndGlyphs">(420nm-740nm)</text>
<path d="M451.2,361.78 L454.8,368.62 L447.6,368.62 Z" fill="#000"/>
<text x="461.6" y="368" font-size="7.8" fill="#1a1a1a" textLength="8" lengthAdjust="spacingAndGlyphs">B-I</text>
<text x="474.8" y="368" font-size="7.8" fill="#1a1a1a" textLength="46.2" lengthAdjust="spacingAndGlyphs">(380nm-780nm)</text>
<g font-size="9.5" fill="#111">
<text x="311.2" y="379.1" textLength="9.8" lengthAdjust="spacingAndGlyphs">10</text><text x="321.8" y="374.1" font-size="6.2">1</text>
<text x="311.2" y="340.4" textLength="9.8" lengthAdjust="spacingAndGlyphs">10</text><text x="321.8" y="335.4" font-size="6.2">2</text>
<text x="311.2" y="301.7" textLength="9.8" lengthAdjust="spacingAndGlyphs">10</text><text x="321.8" y="296.7" font-size="6.2">3</text>
<text x="311.2" y="263" textLength="9.8" lengthAdjust="spacingAndGlyphs">10</text><text x="321.8" y="258" font-size="6.2">4</text>
<text x="311.2" y="224.3" textLength="9.8" lengthAdjust="spacingAndGlyphs">10</text><text x="321.8" y="219.3" font-size="6.2">5</text>
</g>
<g font-size="9.2" fill="#111" text-anchor="middle">
<text x="358.04" y="386.6">2000</text>
<text x="417.52" y="386.6">4000</text>
<text x="477" y="386.6">6000</text>
<text x="536.48" y="386.6">8000</text>
</g>
<text x="362.7" y="408.5" font-size="16" fill="#111" stroke="#111" stroke-width="0.3" textLength="157.3" lengthAdjust="spacingAndGlyphs">Color Temperature (K)</text>
<text transform="translate(298.3,365.1) rotate(-90)" x="0" y="0" font-size="16" fill="#111" stroke="#111" stroke-width="0.3" textLength="123.7" lengthAdjust="spacingAndGlyphs">Exposure limit (s)</text>
</svg>
</body></html>
